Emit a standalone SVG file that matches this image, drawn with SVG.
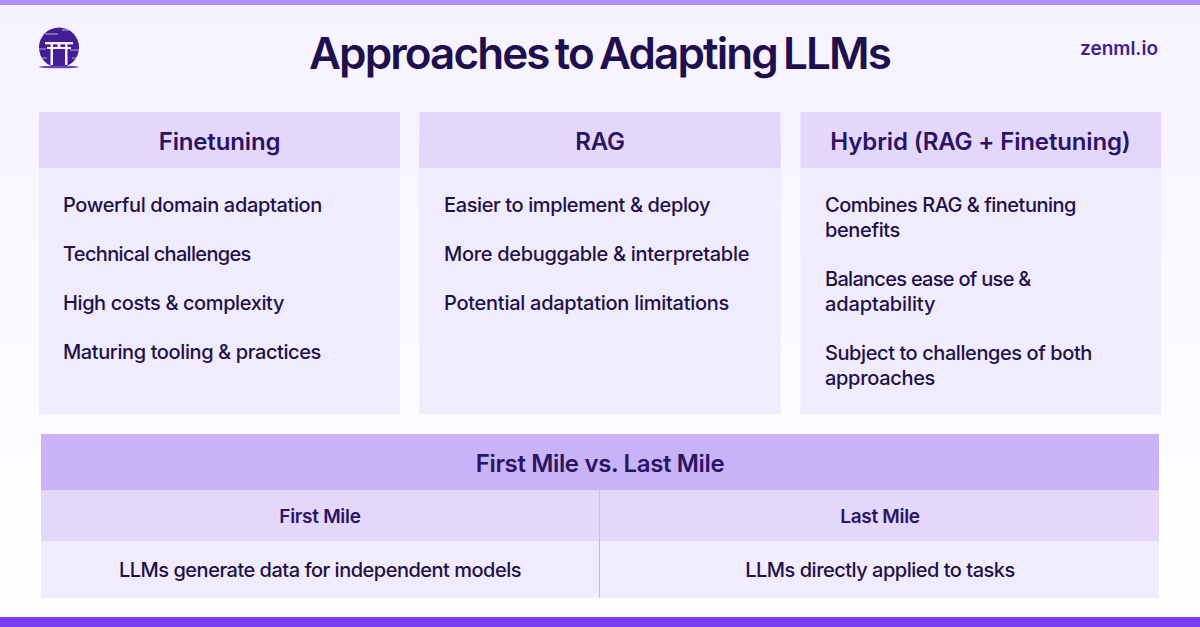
<svg xmlns="http://www.w3.org/2000/svg" width="1200" height="627" viewBox="0 0 1200 627">
<defs>
<linearGradient id="bg" x1="0" y1="0" x2="0" y2="1"><stop offset="0" stop-color="#f6f2ff"/><stop offset="1" stop-color="#ffffff"/></linearGradient>
<clipPath id="disc"><circle cx="59" cy="47.500" r="20"/></clipPath>
</defs>
<style>
text{font-family:Inter,"Liberation Sans",sans-serif;fill:#1f1147}
.head{font-size:24px;font-weight:600;text-anchor:middle;fill:#2b1464;letter-spacing:-0.150px}
.item{font-size:20px;font-weight:500;letter-spacing:-0.380px}
.sub{font-size:19px;font-weight:600;text-anchor:middle;fill:#2b1464;letter-spacing:-0.300px}
.cell{font-size:20px;font-weight:500;text-anchor:middle;letter-spacing:-0.500px}
.hd{fill:#e3d8fc}.bd{fill:#f0ecfd}.div{stroke:#c9b5f3;stroke-width:1}
</style>
<rect width="1200" height="627" fill="url(#bg)"/>
<rect width="1200" height="5" fill="#b08ef8"/>
<rect y="617" width="1200" height="10" fill="#7a3df0"/>
<g id="logo">
<circle cx="59" cy="47.500" r="20" fill="#431d93"/>
<g stroke="#f0ebfd" stroke-width="0.700" clip-path="url(#disc)"><path d="M45 34H58M62 30H70M39 49H46M70 50H79M42 58H47M72 58H76"/></g>
<rect x="45" y="42" width="28" height="2.400" fill="#f4f0ff"/>
<rect x="47" y="47" width="24" height="2" fill="#f4f0ff"/>
<rect x="50.500" y="44" width="2.500" height="21" fill="#f4f0ff"/>
<rect x="65" y="44" width="2.500" height="21" fill="#f4f0ff"/>
<rect x="57.500" y="44" width="3" height="3" fill="#f4f0ff"/>
<ellipse cx="59" cy="67" rx="20" ry="1.300" fill="#6b43b5"/>
</g>
<text id="title" x="599.500" y="69" text-anchor="middle" font-size="44" font-weight="600" letter-spacing="-1.900" word-spacing="-3" style="fill:#1f0f4d">Approaches to Adapting LLMs</text>
<text id="site" x="1080" y="55" font-size="19" font-weight="600" style="fill:#431d93">zenml.io</text>
<g id="finetuning">
<rect class="bd" x="39" y="112" width="361" height="302"/>
<rect class="hd" x="39" y="112" width="361" height="56"/>
<text class="head" x="219.500" y="150">Finetuning</text>
<text class="item" x="63" y="212" textLength="259">Powerful domain adaptation</text>
<text class="item" x="63" y="261" textLength="188">Technical challenges</text>
<text class="item" x="63" y="310" textLength="221">High costs &amp; complexity</text>
<text class="item" x="63" y="359" textLength="258">Maturing tooling &amp; practices</text>
</g>
<g id="rag">
<rect class="bd" x="419.500" y="112" width="361" height="302"/>
<rect class="hd" x="419.500" y="112" width="361" height="56"/>
<text class="head" x="600" y="150">RAG</text>
<text class="item" x="444" y="212" textLength="266">Easier to implement &amp; deploy</text>
<text class="item" x="444" y="261" textLength="305">More debuggable &amp; interpretable</text>
<text class="item" x="444" y="310" textLength="285">Potential adaptation limitations</text>
</g>
<g id="hybrid">
<rect class="bd" x="800.500" y="112" width="360.500" height="302"/>
<rect class="hd" x="800.500" y="112" width="360.500" height="56"/>
<text class="head" x="980.500" y="150">Hybrid (RAG + Finetuning)</text>
<text class="item" x="825" y="212" textLength="251">Combines RAG &amp; finetuning</text>
<text class="item" x="825" y="237" textLength="75">benefits</text>
<text class="item" x="825" y="286" textLength="206">Balances ease of use &amp;</text>
<text class="item" x="825" y="311" textLength="110">adaptability</text>
<text class="item" x="825" y="360" textLength="267">Subject to challenges of both</text>
<text class="item" x="825" y="385" textLength="110">approaches</text>
</g>
<g id="miles">
<rect x="41" y="434" width="1118" height="56" fill="#c9b3f8"/>
<text class="head" x="600" y="472" style="letter-spacing:-0.350px">First Mile vs. Last Mile</text>
<rect class="hd" x="41" y="490" width="1118" height="51"/>
<rect class="bd" x="41" y="541" width="1118" height="57"/>
<line class="div" x1="599.500" y1="490" x2="599.500" y2="598"/>
<text class="sub" x="320" y="523">First Mile</text>
<text class="sub" x="880" y="523">Last Mile</text>
<text class="cell" x="320" y="577">LLMs generate data for independent models</text>
<text class="cell" x="880" y="577">LLMs directly applied to tasks</text>
</g>
</svg>
